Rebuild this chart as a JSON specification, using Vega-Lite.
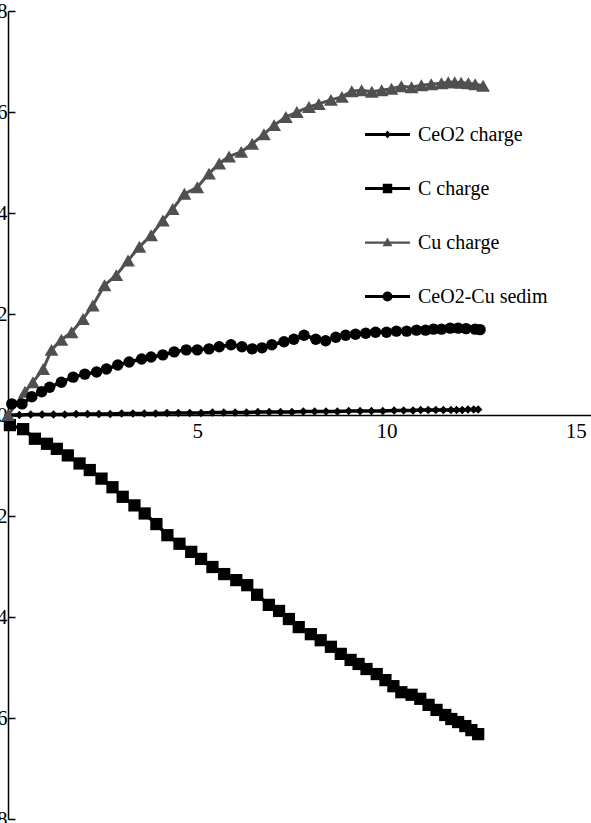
{
  "$schema": "https://vega.github.io/schema/vega-lite/v6.json",
  "autosize": "none",
  "padding": {"left": 8, "top": 11, "right": 0, "bottom": 4},
  "width": 583,
  "height": 808,
  "background": "white",
  "config": {
    "view": {"stroke": null},
    "axis": {"grid": false, "labelFont": "Liberation Serif", "labelFontSize": 21, "labelColor": "black", "domainColor": "black", "domainWidth": 1.5, "tickColor": "black", "tickWidth": 1.5, "title": null},
    "legend": {"labelFont": "Liberation Serif", "labelFontSize": 20, "labelColor": "black"}
  },
  "data": {"values": [
    {"series": "CeO2 charge", "x": 0.0, "y": 0.0},
    {"series": "CeO2 charge", "x": 0.3, "y": 0.0},
    {"series": "CeO2 charge", "x": 0.6, "y": 0.01},
    {"series": "CeO2 charge", "x": 0.9, "y": 0.01},
    {"series": "CeO2 charge", "x": 1.2, "y": 0.01},
    {"series": "CeO2 charge", "x": 1.5, "y": 0.01},
    {"series": "CeO2 charge", "x": 1.8, "y": 0.02},
    {"series": "CeO2 charge", "x": 2.1, "y": 0.02},
    {"series": "CeO2 charge", "x": 2.4, "y": 0.02},
    {"series": "CeO2 charge", "x": 2.7, "y": 0.02},
    {"series": "CeO2 charge", "x": 3.0, "y": 0.03},
    {"series": "CeO2 charge", "x": 3.3, "y": 0.03},
    {"series": "CeO2 charge", "x": 3.6, "y": 0.03},
    {"series": "CeO2 charge", "x": 3.9, "y": 0.03},
    {"series": "CeO2 charge", "x": 4.2, "y": 0.04},
    {"series": "CeO2 charge", "x": 4.5, "y": 0.04},
    {"series": "CeO2 charge", "x": 4.8, "y": 0.04},
    {"series": "CeO2 charge", "x": 5.1, "y": 0.04},
    {"series": "CeO2 charge", "x": 5.4, "y": 0.05},
    {"series": "CeO2 charge", "x": 5.7, "y": 0.05},
    {"series": "CeO2 charge", "x": 6.0, "y": 0.05},
    {"series": "CeO2 charge", "x": 6.3, "y": 0.05},
    {"series": "CeO2 charge", "x": 6.6, "y": 0.06},
    {"series": "CeO2 charge", "x": 6.9, "y": 0.06},
    {"series": "CeO2 charge", "x": 7.2, "y": 0.06},
    {"series": "CeO2 charge", "x": 7.5, "y": 0.06},
    {"series": "CeO2 charge", "x": 7.8, "y": 0.07},
    {"series": "CeO2 charge", "x": 8.1, "y": 0.07},
    {"series": "CeO2 charge", "x": 8.4, "y": 0.07},
    {"series": "CeO2 charge", "x": 8.7, "y": 0.07},
    {"series": "CeO2 charge", "x": 9.0, "y": 0.08},
    {"series": "CeO2 charge", "x": 9.3, "y": 0.08},
    {"series": "CeO2 charge", "x": 9.6, "y": 0.08},
    {"series": "CeO2 charge", "x": 9.9, "y": 0.08},
    {"series": "CeO2 charge", "x": 10.2, "y": 0.09},
    {"series": "CeO2 charge", "x": 10.45, "y": 0.09},
    {"series": "CeO2 charge", "x": 10.7, "y": 0.09},
    {"series": "CeO2 charge", "x": 10.9, "y": 0.1},
    {"series": "CeO2 charge", "x": 11.1, "y": 0.1},
    {"series": "CeO2 charge", "x": 11.3, "y": 0.1},
    {"series": "CeO2 charge", "x": 11.5, "y": 0.1},
    {"series": "CeO2 charge", "x": 11.7, "y": 0.1},
    {"series": "CeO2 charge", "x": 11.85, "y": 0.1},
    {"series": "CeO2 charge", "x": 12.0, "y": 0.1},
    {"series": "CeO2 charge", "x": 12.15, "y": 0.11},
    {"series": "CeO2 charge", "x": 12.3, "y": 0.11},
    {"series": "CeO2 charge", "x": 12.42, "y": 0.11},
    {"series": "C charge", "x": 0.05, "y": -0.2},
    {"series": "C charge", "x": 0.4, "y": -0.28},
    {"series": "C charge", "x": 0.71, "y": -0.47},
    {"series": "C charge", "x": 1.03, "y": -0.57},
    {"series": "C charge", "x": 1.29, "y": -0.67},
    {"series": "C charge", "x": 1.58, "y": -0.8},
    {"series": "C charge", "x": 1.89, "y": -0.96},
    {"series": "C charge", "x": 2.16, "y": -1.09},
    {"series": "C charge", "x": 2.47, "y": -1.26},
    {"series": "C charge", "x": 2.76, "y": -1.43},
    {"series": "C charge", "x": 3.03, "y": -1.62},
    {"series": "C charge", "x": 3.34, "y": -1.79},
    {"series": "C charge", "x": 3.61, "y": -1.95},
    {"series": "C charge", "x": 3.92, "y": -2.16},
    {"series": "C charge", "x": 4.21, "y": -2.38},
    {"series": "C charge", "x": 4.53, "y": -2.55},
    {"series": "C charge", "x": 4.84, "y": -2.71},
    {"series": "C charge", "x": 5.1, "y": -2.85},
    {"series": "C charge", "x": 5.4, "y": -3.01},
    {"series": "C charge", "x": 5.71, "y": -3.15},
    {"series": "C charge", "x": 6.03, "y": -3.27},
    {"series": "C charge", "x": 6.32, "y": -3.37},
    {"series": "C charge", "x": 6.58, "y": -3.56},
    {"series": "C charge", "x": 6.89, "y": -3.76},
    {"series": "C charge", "x": 7.16, "y": -3.88},
    {"series": "C charge", "x": 7.42, "y": -4.04},
    {"series": "C charge", "x": 7.68, "y": -4.2},
    {"series": "C charge", "x": 8.0, "y": -4.34},
    {"series": "C charge", "x": 8.26, "y": -4.46},
    {"series": "C charge", "x": 8.53, "y": -4.59},
    {"series": "C charge", "x": 8.79, "y": -4.73},
    {"series": "C charge", "x": 9.05, "y": -4.85},
    {"series": "C charge", "x": 9.26, "y": -4.93},
    {"series": "C charge", "x": 9.47, "y": -5.03},
    {"series": "C charge", "x": 9.74, "y": -5.13},
    {"series": "C charge", "x": 9.97, "y": -5.25},
    {"series": "C charge", "x": 10.18, "y": -5.37},
    {"series": "C charge", "x": 10.39, "y": -5.49},
    {"series": "C charge", "x": 10.66, "y": -5.54},
    {"series": "C charge", "x": 10.89, "y": -5.62},
    {"series": "C charge", "x": 11.11, "y": -5.74},
    {"series": "C charge", "x": 11.32, "y": -5.84},
    {"series": "C charge", "x": 11.55, "y": -5.94},
    {"series": "C charge", "x": 11.71, "y": -6.02},
    {"series": "C charge", "x": 11.89, "y": -6.08},
    {"series": "C charge", "x": 12.08, "y": -6.16},
    {"series": "C charge", "x": 12.24, "y": -6.24},
    {"series": "C charge", "x": 12.42, "y": -6.32},
    {"series": "Cu charge", "x": 0.0, "y": 0.0},
    {"series": "Cu charge", "x": 0.45, "y": 0.46},
    {"series": "Cu charge", "x": 0.66, "y": 0.65},
    {"series": "Cu charge", "x": 0.93, "y": 0.91},
    {"series": "Cu charge", "x": 1.15, "y": 1.29},
    {"series": "Cu charge", "x": 1.41, "y": 1.49},
    {"series": "Cu charge", "x": 1.68, "y": 1.64},
    {"series": "Cu charge", "x": 1.98, "y": 1.9},
    {"series": "Cu charge", "x": 2.24, "y": 2.17},
    {"series": "Cu charge", "x": 2.55, "y": 2.57},
    {"series": "Cu charge", "x": 2.86, "y": 2.77},
    {"series": "Cu charge", "x": 3.17, "y": 3.06},
    {"series": "Cu charge", "x": 3.47, "y": 3.33},
    {"series": "Cu charge", "x": 3.78, "y": 3.56},
    {"series": "Cu charge", "x": 4.09, "y": 3.85},
    {"series": "Cu charge", "x": 4.35, "y": 4.08},
    {"series": "Cu charge", "x": 4.66, "y": 4.38},
    {"series": "Cu charge", "x": 5.0, "y": 4.51},
    {"series": "Cu charge", "x": 5.31, "y": 4.78},
    {"series": "Cu charge", "x": 5.58, "y": 4.98},
    {"series": "Cu charge", "x": 5.84, "y": 5.12},
    {"series": "Cu charge", "x": 6.16, "y": 5.21},
    {"series": "Cu charge", "x": 6.45, "y": 5.37},
    {"series": "Cu charge", "x": 6.76, "y": 5.56},
    {"series": "Cu charge", "x": 7.03, "y": 5.74},
    {"series": "Cu charge", "x": 7.34, "y": 5.9},
    {"series": "Cu charge", "x": 7.63, "y": 6.0},
    {"series": "Cu charge", "x": 7.95, "y": 6.1},
    {"series": "Cu charge", "x": 8.21, "y": 6.16},
    {"series": "Cu charge", "x": 8.53, "y": 6.24},
    {"series": "Cu charge", "x": 8.82, "y": 6.3},
    {"series": "Cu charge", "x": 9.08, "y": 6.41},
    {"series": "Cu charge", "x": 9.34, "y": 6.43},
    {"series": "Cu charge", "x": 9.61, "y": 6.4},
    {"series": "Cu charge", "x": 9.87, "y": 6.43},
    {"series": "Cu charge", "x": 10.13, "y": 6.46},
    {"series": "Cu charge", "x": 10.39, "y": 6.51},
    {"series": "Cu charge", "x": 10.66, "y": 6.49},
    {"series": "Cu charge", "x": 10.92, "y": 6.53},
    {"series": "Cu charge", "x": 11.18, "y": 6.55},
    {"series": "Cu charge", "x": 11.45, "y": 6.57},
    {"series": "Cu charge", "x": 11.63, "y": 6.59},
    {"series": "Cu charge", "x": 11.8, "y": 6.59},
    {"series": "Cu charge", "x": 11.97, "y": 6.58},
    {"series": "Cu charge", "x": 12.16, "y": 6.57},
    {"series": "Cu charge", "x": 12.34, "y": 6.55},
    {"series": "Cu charge", "x": 12.55, "y": 6.52},
    {"series": "CeO2-Cu sedim", "x": 0.1, "y": 0.22},
    {"series": "CeO2-Cu sedim", "x": 0.37, "y": 0.22},
    {"series": "CeO2-Cu sedim", "x": 0.63, "y": 0.36},
    {"series": "CeO2-Cu sedim", "x": 0.89, "y": 0.46},
    {"series": "CeO2-Cu sedim", "x": 1.1, "y": 0.55},
    {"series": "CeO2-Cu sedim", "x": 1.41, "y": 0.65},
    {"series": "CeO2-Cu sedim", "x": 1.72, "y": 0.75},
    {"series": "CeO2-Cu sedim", "x": 2.03, "y": 0.81},
    {"series": "CeO2-Cu sedim", "x": 2.34, "y": 0.85},
    {"series": "CeO2-Cu sedim", "x": 2.6, "y": 0.91},
    {"series": "CeO2-Cu sedim", "x": 2.9, "y": 0.99},
    {"series": "CeO2-Cu sedim", "x": 3.2, "y": 1.05},
    {"series": "CeO2-Cu sedim", "x": 3.53, "y": 1.11},
    {"series": "CeO2-Cu sedim", "x": 3.78, "y": 1.15},
    {"series": "CeO2-Cu sedim", "x": 4.09, "y": 1.19},
    {"series": "CeO2-Cu sedim", "x": 4.39, "y": 1.25},
    {"series": "CeO2-Cu sedim", "x": 4.71, "y": 1.29},
    {"series": "CeO2-Cu sedim", "x": 5.0, "y": 1.29},
    {"series": "CeO2-Cu sedim", "x": 5.31, "y": 1.31},
    {"series": "CeO2-Cu sedim", "x": 5.58, "y": 1.35},
    {"series": "CeO2-Cu sedim", "x": 5.89, "y": 1.39},
    {"series": "CeO2-Cu sedim", "x": 6.18, "y": 1.35},
    {"series": "CeO2-Cu sedim", "x": 6.45, "y": 1.31},
    {"series": "CeO2-Cu sedim", "x": 6.71, "y": 1.33},
    {"series": "CeO2-Cu sedim", "x": 6.97, "y": 1.39},
    {"series": "CeO2-Cu sedim", "x": 7.29, "y": 1.45},
    {"series": "CeO2-Cu sedim", "x": 7.55, "y": 1.5},
    {"series": "CeO2-Cu sedim", "x": 7.82, "y": 1.58},
    {"series": "CeO2-Cu sedim", "x": 8.13, "y": 1.5},
    {"series": "CeO2-Cu sedim", "x": 8.39, "y": 1.47},
    {"series": "CeO2-Cu sedim", "x": 8.66, "y": 1.54},
    {"series": "CeO2-Cu sedim", "x": 8.92, "y": 1.58},
    {"series": "CeO2-Cu sedim", "x": 9.18, "y": 1.6},
    {"series": "CeO2-Cu sedim", "x": 9.45, "y": 1.62},
    {"series": "CeO2-Cu sedim", "x": 9.71, "y": 1.64},
    {"series": "CeO2-Cu sedim", "x": 10.0, "y": 1.64},
    {"series": "CeO2-Cu sedim", "x": 10.26, "y": 1.66},
    {"series": "CeO2-Cu sedim", "x": 10.53, "y": 1.66},
    {"series": "CeO2-Cu sedim", "x": 10.79, "y": 1.68},
    {"series": "CeO2-Cu sedim", "x": 11.03, "y": 1.68},
    {"series": "CeO2-Cu sedim", "x": 11.24, "y": 1.7},
    {"series": "CeO2-Cu sedim", "x": 11.45, "y": 1.7},
    {"series": "CeO2-Cu sedim", "x": 11.68, "y": 1.72},
    {"series": "CeO2-Cu sedim", "x": 11.89, "y": 1.72},
    {"series": "CeO2-Cu sedim", "x": 12.1, "y": 1.71},
    {"series": "CeO2-Cu sedim", "x": 12.34, "y": 1.7},
    {"series": "CeO2-Cu sedim", "x": 12.47, "y": 1.69}
  ]},
  "encoding": {
    "x": {"field": "x", "type": "quantitative", "scale": {"domain": [0, 15.4], "nice": false},
      "axis": {"orient": "bottom", "offset": -404, "values": [5, 10, 15], "ticks": false, "labelPadding": 5}},
    "y": {"field": "y", "type": "quantitative", "scale": {"domain": [-8, 8], "nice": false},
      "axis": {"values": [-8, -6, -4, -2, 0, 2, 4, 6, 8], "tickSize": -7, "labelPadding": 8}}
  },
  "layer": [
    {
      "transform": [{"filter": "datum.series === 'CeO2 charge'"}],
      "layer": [
        {"mark": {"type": "line", "strokeWidth": 3.5, "color": "#000000"}, "encoding": {}},
        {"mark": {"type": "point", "filled": true, "opacity": 1, "shape": "diamond", "size": 70, "color": "#000000"}}
      ]
    },
    {
      "transform": [{"filter": "datum.series === 'C charge'"}],
      "layer": [
        {"mark": {"type": "line", "strokeWidth": 3.5, "color": "#000000"}, "encoding": {}},
        {"mark": {"type": "point", "filled": true, "opacity": 1, "shape": "square", "size": 150, "color": "#000000"}}
      ]
    },
    {
      "transform": [{"filter": "datum.series === 'Cu charge'"}],
      "layer": [
        {"mark": {"type": "line", "strokeWidth": 3, "color": "#505050"}, "encoding": {}},
        {"mark": {"type": "point", "filled": true, "opacity": 1, "shape": "triangle-up", "size": 190, "color": "#505050"}}
      ]
    },
    {
      "transform": [{"filter": "datum.series === 'CeO2-Cu sedim'"}],
      "layer": [
        {"mark": {"type": "line", "strokeWidth": 3.5, "color": "#000000"}, "encoding": {}},
        {"mark": {"type": "point", "filled": true, "opacity": 1, "shape": "circle", "size": 130, "color": "#000000"}}
      ]
    },
    {
      "transform": [{"filter": "false"}],
      "mark": {"type": "point", "filled": true, "opacity": 1, "size": 2025, "strokeWidth": 0},
      "encoding": {
        "fill": {"field": "series", "type": "nominal",
          "scale": {"domain": ["CeO2 charge", "C charge", "Cu charge", "CeO2-Cu sedim"], "range": ["#000000", "#000000", "#505050", "#000000"]},
          "legend": {"title": null, "orient": "none", "legendX": 357, "legendY": 101, "padding": 0, "rowPadding": 21, "symbolSize": 2025, "labelOffset": 8, "symbolStrokeWidth": 0}},
        "shape": {"field": "series", "type": "nominal",
          "scale": {"domain": ["CeO2 charge", "C charge", "Cu charge", "CeO2-Cu sedim"],
            "range": [
              "M-1,-0.07H1V0.07H-1Z M0,-0.18L0.15,0L0,0.18L-0.15,0Z",
              "M-1,-0.07H1V0.07H-1Z M-0.21,-0.21H0.21V0.21H-0.21Z",
              "M-1,-0.05H1V0.05H-1Z M0,-0.22L0.22,0.17L-0.22,0.17Z",
              "M-1,-0.07H1V0.07H-1Z M-0.22,0A0.22,0.22,0,1,1,0.22,0A0.22,0.22,0,1,1,-0.22,0Z"
            ]},
          "legend": {"title": null, "orient": "none", "legendX": 357, "legendY": 101, "padding": 0, "rowPadding": 21, "symbolSize": 2025, "labelOffset": 8, "symbolStrokeWidth": 0}}
      }
    }
  ]
}
